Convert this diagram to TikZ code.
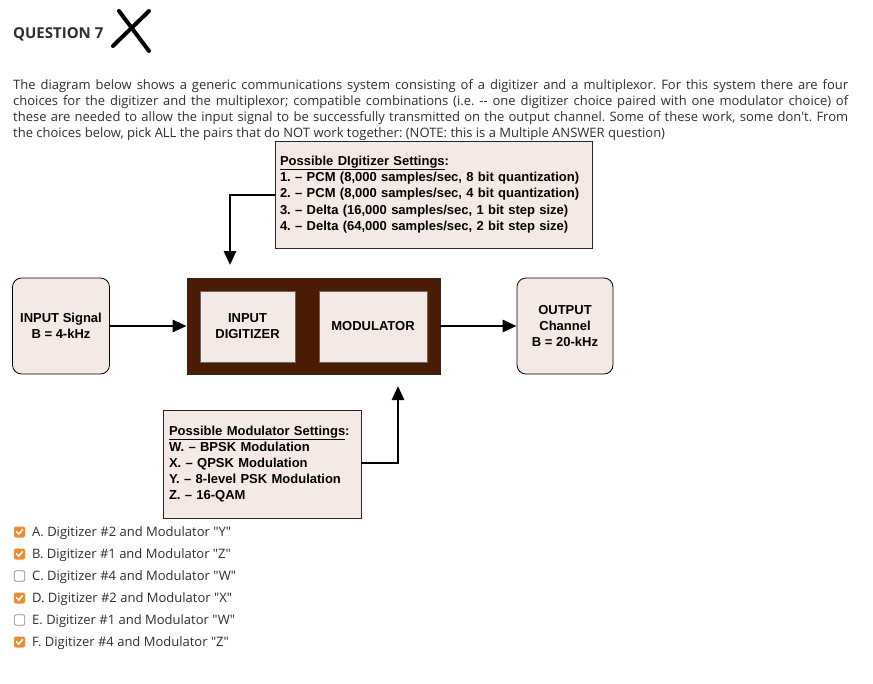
\documentclass[tikz,border=0pt]{standalone}
\usepackage{fontspec}
\setmainfont{Open Sans}[Ligatures=TeXOff]
\newfontfamily\arial{Liberation Sans}[Ligatures=TeXOff]
\usetikzlibrary{arrows.meta}
\definecolor{boxfill}{HTML}{F4E9E4}
\definecolor{brownbox}{HTML}{4A1C03}
\definecolor{chk}{HTML}{EE8A30}
\definecolor{txt}{HTML}{2E2E2E}
\frenchspacing
\newcommand{\parline}[1]{\makebox[835pt][s]{#1}}
\begin{document}
\begin{tikzpicture}[x=1pt,y=-1pt,
  setbox/.style={draw=black!85, fill=boxfill, line width=0.8pt, align=left, inner sep=0pt,
    font=\arial\bfseries\fontsize{13}{16.2}\selectfont},
  rbox/.style={draw=black, fill=boxfill, rounded corners=9pt, line width=0.8pt, align=center,
    minimum width=96pt, minimum height=96pt, font=\arial\bfseries\fontsize{13}{16}\selectfont},
  inbox/.style={draw=black!60, fill=boxfill, align=center, inner sep=0pt, line width=0.6pt,
    font=\arial\bfseries\fontsize{13}{16}\selectfont},
  conn/.style={line width=2.8pt, -{Triangle[length=14pt,width=12pt]}},
  ptext/.style={anchor=base west, inner sep=0pt, text=txt, font=\fontsize{13}{16}\selectfont},
  cbon/.style={fill=chk, rounded corners=2pt, minimum size=11pt, inner sep=0pt},
  cboff/.style={draw=black!45, fill=white, line width=0.7pt, rounded corners=2pt, minimum size=10.5pt, inner sep=0pt},
  tick/.style={draw=white, line width=1.6pt, line cap=round, line join=round}
]
\useasboundingbox (0,0) rectangle (873,683);
% title
\node[anchor=base west, inner sep=0pt, text=txt, font=\bfseries\fontsize{15}{18}\selectfont] (title) at (13,38) {QUESTION 7};
\draw[line width=4pt, line cap=round] (119,11) -- (149,51);
\draw[line width=4pt, line cap=round] (113,46) .. controls (126,33) and (138,22) .. (149,11);
% paragraph
\node[ptext] (p1) at (13,89) {\parline{The diagram below shows a generic communications system consisting of a digitizer and a multiplexor. For this system there are four}};
\node[ptext] (p2) at (13,105) {\parline{choices for the digitizer and the multiplexor; compatible combinations (i.e. -- one digitizer choice paired with one modulator choice) of}};
\node[ptext] (p3) at (13,121) {\parline{these are needed to allow the input signal to be successfully transmitted on the output channel. Some of these work, some don't. From}};
\node[ptext] (p4) at (13,137) {the choices below, pick ALL the pairs that do NOT work together: (NOTE: this is a Multiple ANSWER question)};
% digitizer settings
\node[setbox, minimum width=317pt, minimum height=107pt, text width=307pt] (dig) at (433.5,194.5) {\underline{Possible DIgitizer Settings}:\\
1. \textendash{} PCM (8,000 samples/sec, 8 bit quantization)\\
2. \textendash{} PCM (8,000 samples/sec, 4 bit quantization)\\
3. \textendash{} Delta (16,000 samples/sec, 1 bit step size)\\
4. \textendash{} Delta (64,000 samples/sec, 2 bit step size)};
% system
\node[draw=black!85, fill=brownbox, minimum width=253pt, minimum height=96pt, inner sep=0pt, line width=0.8pt] (sys) at (313.5,326) {};
\node[inbox, minimum width=95pt, minimum height=71pt] (idg) at (247.5,326.5) {INPUT\\DIGITIZER};
\node[inbox, minimum width=108pt, minimum height=71pt] (mod) at (373,326.5) {MODULATOR};
\node[rbox, minimum width=97pt] (in) at (61,326) {INPUT Signal\\B = 4-kHz};
\node[rbox] (out) at (565,326) {OUTPUT\\Channel\\B = 20-kHz};
% modulator settings
\node[setbox, minimum width=198pt, minimum height=108pt, text width=186pt] (mset) at (262,464) {\underline{Possible Modulator Settings}:\\
W. \textendash{} BPSK Modulation\\
X. \textendash{} QPSK Modulation\\
Y. \textendash{} 8-level PSK Modulation\\
Z. \textendash{} 16-QAM};
% connectors
\coordinate (digtip) at (230,265);
\coordinate (modtip) at (398,386);
\draw[conn] (dig.west |- 0,195) -| (digtip);
\draw[conn] (mset.east |- 0,463) -| (modtip);
\draw[conn] (in.east) -- (sys.west);
\draw[conn] (sys.east) -- (out.west);
% choices
\foreach \yy/\st/\lab [count=\i] in {532/on/{A. Digitizer \#2 and Modulator "Y"},
  554/on/{B. Digitizer \#1 and Modulator "Z"},
  576/off/{C. Digitizer \#4 and Modulator "W"},
  598/on/{D. Digitizer \#2 and Modulator "X"},
  620/off/{E. Digitizer \#1 and Modulator "W"},
  642/on/{F. Digitizer \#4 and Modulator "Z"}}{
  \node[cb\st] (cb\i) at (19.5,\yy) {};
  \node[ptext] (ch\i) at (32,\yy+4.5) {\lab};
}
\foreach \i in {1,2,4,6}{
  \draw[tick] ([shift={(-2.8pt,0.2pt)}]cb\i.center) -- ([shift={(-0.8pt,-2.2pt)}]cb\i.center) -- ([shift={(3pt,2.4pt)}]cb\i.center);
}
\end{tikzpicture}
\end{document}
